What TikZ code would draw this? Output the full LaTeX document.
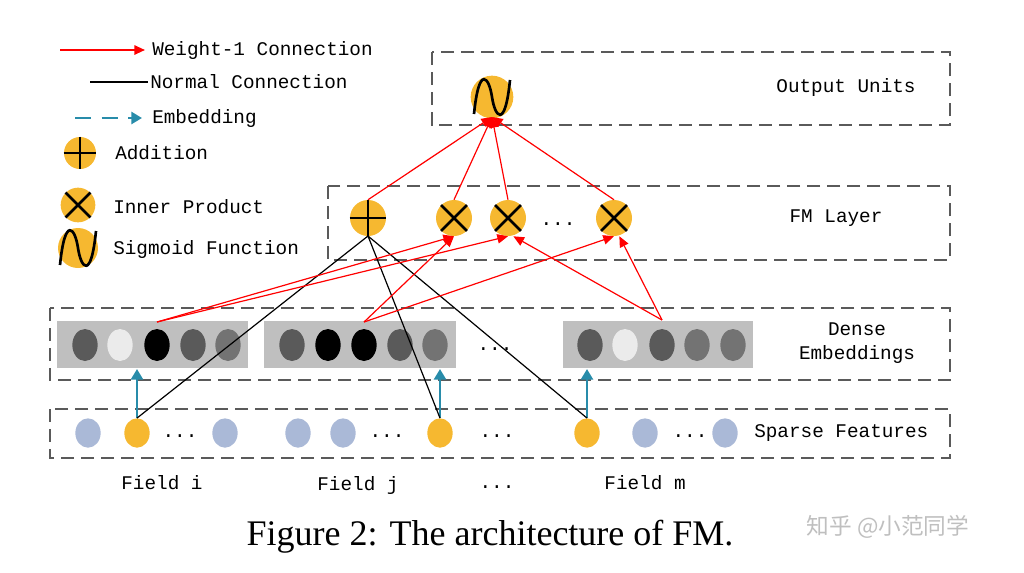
\documentclass[tikz,border=0pt]{standalone}
\usepackage{fontspec}
\setmainfont{Liberation Serif}
\newfontfamily\mono{Liberation Mono}
\newfontfamily\cjk{Noto Sans CJK SC}
\usetikzlibrary{arrows.meta,shapes.geometric}
\definecolor{org}{RGB}{246,184,48}
\definecolor{lb}{RGB}{170,185,215}
\definecolor{tl}{RGB}{40,140,170}
\definecolor{dg}{RGB}{90,90,90}
\definecolor{bx}{RGB}{90,90,90}
\begin{document}
\begin{tikzpicture}[x=0.75pt,y=-0.75pt,
 lbl/.style={font=\mono\fontsize{14.5}{16}\selectfont,inner sep=0pt},
 box/.style={draw=bx,line width=2.2pt,dash pattern=on 10pt off 5pt},
 op/.style={circle,fill=org,minimum size=27pt,inner sep=0pt},
 emb/.style={ellipse,minimum width=19pt,minimum height=24pt,inner sep=0pt},
 sp/.style={ellipse,minimum width=19pt,minimum height=22pt,inner sep=0pt},
 red/.style={draw=red,line width=0.9pt,-{Triangle[length=8pt,width=7pt]}},
 blk/.style={draw=black,line width=0.9pt},
 teal/.style={draw=tl,line width=2pt,-{Triangle[length=8pt,width=9pt]}}]
\useasboundingbox (0,0) rectangle (1024,572);
% legend
\coordinate (l1a) at (60,50); \coordinate (l1b) at (145,50);
\draw[red,line width=1.4pt] (l1a) -- (l1b);
\node[lbl,anchor=west] at (152,50) {Weight-1 Connection};
\coordinate (l2a) at (90,82); \coordinate (l2b) at (148,82);
\draw[blk,line width=1.8pt] (l2a) -- (l2b);
\node[lbl,anchor=west] at (150,82) {Normal Connection};
\coordinate (l3a) at (75,118); \coordinate (l3b) at (142,118);
\draw[teal,dash pattern=on 12pt off 8pt] (l3a) -- (l3b);
\node[lbl,anchor=west] at (152,118) {Embedding};
\node[op,minimum size=24pt] (ga) at (80,153) {};
\draw[line width=2pt] (ga.north)--(ga.south) (ga.west)--(ga.east);
\node[lbl,anchor=west] at (115,153) {Addition};
\node[op,minimum size=26pt] (gb) at (78,205) {};
\draw[line width=2pt] (gb.north west)--(gb.south east) (gb.north east)--(gb.south west);
\node[lbl,anchor=west] at (113,207) {Inner Product};
\node[op,minimum size=30pt] (gc) at (78,248) {};
\draw[line width=2pt] (60,265) .. controls (65,215) and (75,228) .. (78,248) .. controls (81,268) and (91,281) .. (96,231);
\node[lbl,anchor=west] at (113,249) {Sigmoid Function};
% boxes
\draw[box] (432,52) rectangle (950,125);
\draw[box] (328,186) rectangle (950,260);
\draw[box] (50,308) rectangle (950,380);
\draw[box] (50,409) rectangle (950,458);
\node[lbl] at (846,87) {Output Units};
\node[lbl] at (836,218) {FM Layer};
\node[lbl,align=center] at (857,343) {Dense\\[2pt]Embeddings};
\node[lbl,anchor=west] at (754,433) {Sparse Features};
% output
\node[op,minimum size=32pt] (sig) at (492,97) {};
\draw[line width=2pt] (474,114) .. controls (479,64) and (489,77) .. (492,97) .. controls (495,117) and (505,130) .. (510,80);
% FM nodes
\node[op] (plus) at (368,218) {};
\draw[line width=2pt] (plus.north)--(plus.south) (plus.west)--(plus.east);
\foreach \n/\x in {c1/454,c2/508,c3/614}{
 \node[op] (\n) at (\x,218) {};
 \draw[line width=2pt] (\n.north west)--(\n.south east) (\n.north east)--(\n.south west);}
\node[lbl] at (558,224) {...};
% embeddings
\fill[black!25] (57,321) rectangle (248,368);
\fill[black!25] (264,321) rectangle (456,368);
\fill[black!25] (563,321) rectangle (753,368);
\foreach \n/\x/\c in {a1/85/dg,a2/120/black!8,a3/157/black,a4/193/dg,a5/228/black!55,
 b1/292/dg,b2/328/black,b3/364/black,b4/400/dg,b5/435/black!55,
 m1/590/dg,m2/625/black!8,m3/662/dg,m4/697/black!55,m5/733/black!55}
 \node[emb,fill=\c] (\n) at (\x,345) {};
\node[lbl] at (495,349) {...};
% sparse
\foreach \n/\x/\c in {s1/88/lb,si/137/org,s3/225/lb,s4/298/lb,s5/343/lb,sj/440/org,sm/587/org,s8/645/lb,s9/725/lb}
 \node[sp,fill=\c] (\n) at (\x,433) {};
\foreach \x in {180,387,497,690} \node[lbl] at (\x,436) {...};
\node[lbl] at (162,483) {Field i};
\node[lbl] at (358,485) {Field j};
\node[lbl] at (497,487) {...};
\node[lbl] at (645,483) {Field m};
% teal
\coordinate (tsi) at (137,369); \coordinate (tsj) at (440,369); \coordinate (tsm) at (587,369);
\draw[teal] (si.north) -- (tsi); \draw[teal] (sj.north) -- (tsj); \draw[teal] (sm.north) -- (tsm);
% black
\coordinate (pb) at (368,236);
\draw[blk] (pb) -- (si.north) (pb) -- (sj.north) (pb) -- (sm.north);
% red to output
\coordinate (sb) at (492,117);
\draw[red] (plus.north) -- (sb);
\draw[red] (c1.north) -- (sb); \draw[red] (c2.north) -- (sb); \draw[red] (c3.north) -- (sb);
% red embeddings
\coordinate (ea) at (157,322); \coordinate (eb) at (364,322); \coordinate (em) at (662,320);
\draw[red] (ea) -- (c1.south); \draw[red] (ea) -- (c2.south);
\draw[red] (eb) -- (c1.south); \draw[red] (eb) -- (c3.south);
\draw[red] (em) -- ([xshift=4pt]c2.south); \draw[red] (em) -- ([xshift=4pt]c3.south);
% caption
\node[font=\fontsize{27}{30}\selectfont] at (490,537) {Figure 2: The architecture of FM.};
\node[font=\cjk\fontsize{17}{20}\selectfont,text=black!25] at (888,527) {知乎 @小范同学};
\end{tikzpicture}
\end{document}
